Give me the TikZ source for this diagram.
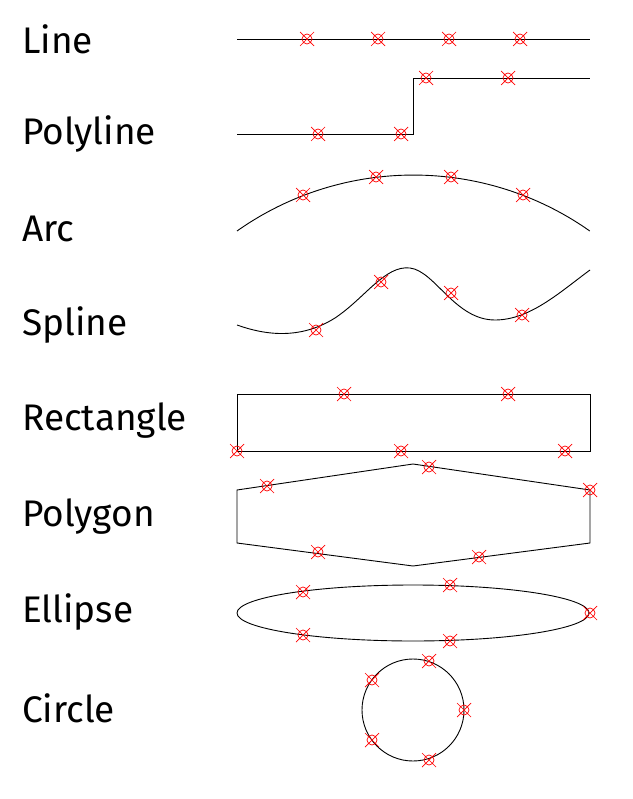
\documentclass[tikz,border=0pt]{standalone}
\usepackage{fontspec}
\setmainfont{Fira Sans}
\begin{document}
\begin{tikzpicture}[x=1pt,y=-1pt,
  shp/.style={line width=0.9pt},
  lbl/.style={anchor=west,font=\fontsize{37}{40}\selectfont,inner sep=0pt},
  mk/.pic={\draw[red,line width=0.7pt] (0,0) circle (5) (-7,-7)--(7,7) (-7,7)--(7,-7);}]
\useasboundingbox (0,0) rectangle (632,799);
\node[lbl] (l1) at (22,39) {Line};
\node[lbl] (l2) at (22,134) {Polyline};
\node[lbl] (l3) at (22,229) {Arc};
\node[lbl] (l4) at (22,325) {Spline};
\node[lbl] (l5) at (22,421) {Rectangle};
\node[lbl] (l6) at (22,517) {Polygon};
\node[lbl] (l7) at (22,612) {Ellipse};
\node[lbl] (l8) at (22,708) {Circle};
\draw[shp] (237,39)--(590,39);
\foreach \p in {(307,39),(378,39),(449,39),(520,39)} \pic at \p {mk};
\draw[shp] (237,134)--(413,134)--(413,78)--(590,78);
\foreach \p in {(318,134),(401,134),(426,78),(508,78)} \pic at \p {mk};
\draw[shp] (237,231) arc[start angle=-125.2,end angle=-54.8,radius=306];
\foreach \p in {(303,195),(376,177),(451,177),(523,195)} \pic at \p {mk};
\draw[shp] (237,325) .. controls (265,335) and (300,340) .. (335,318) .. controls (365,298) and (385,265) .. (410,268) .. controls (435,271) and (455,320) .. (495,320) .. controls (530,320) and (560,292) .. (590,270);
\foreach \p in {(316,330),(381,282),(451,293),(522,315)} \pic at \p {mk};
\draw[shp] (237,394) rectangle (590,451);
\foreach \p in {(344,394),(508,394),(237,451),(401,451),(565,451)} \pic at \p {mk};
\draw[shp] (237,490)--(413,464)--(590,490)--(590,543)--(413,566)--(237,543)--cycle;
\foreach \p in {(267,486),(429,467),(590,490),(318,552),(479,557)} \pic at \p {mk};
\draw[shp] (413,613) ellipse[x radius=176,y radius=28];
\foreach \p in {(303,592),(450,585),(590,613),(303,635),(450,641)} \pic at \p {mk};
\draw[shp] (413,710) circle (51);
\foreach \p in {(429,661),(372,680),(464,710),(372,740),(429,760)} \pic at \p {mk};
\end{tikzpicture}
\end{document}
